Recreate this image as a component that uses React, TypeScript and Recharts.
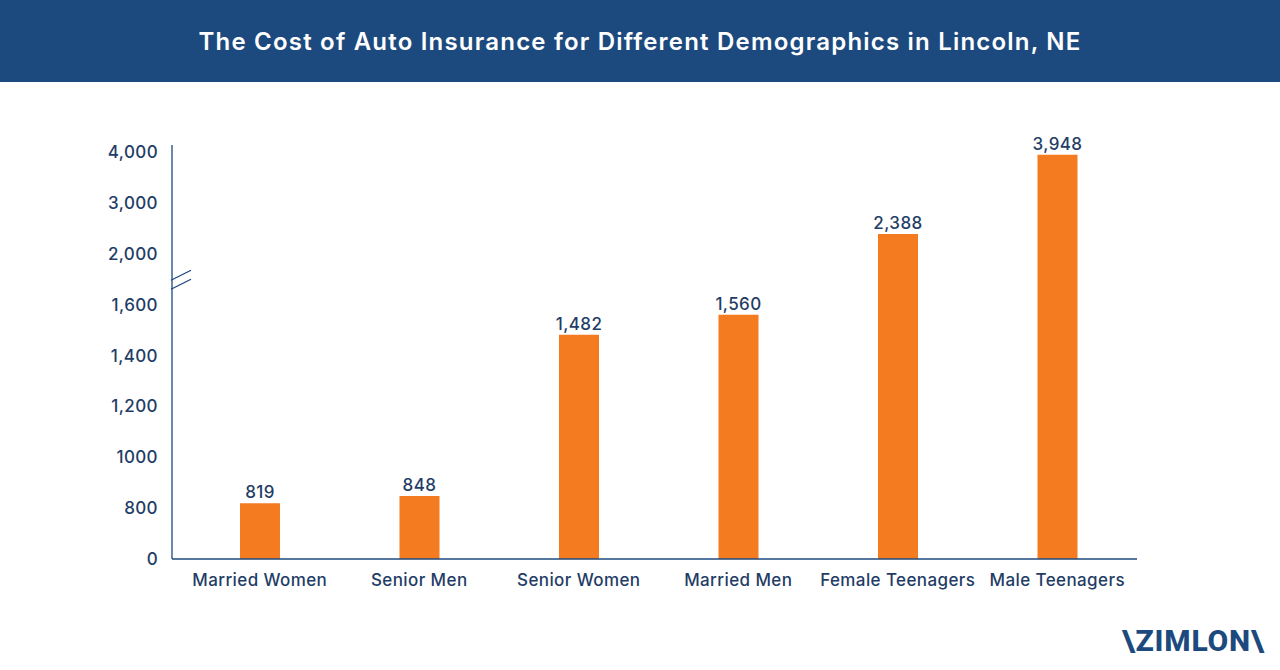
import React from 'react';
import { BarChart, Bar, XAxis, YAxis, LabelList, ReferenceArea } from 'recharts';

const categories = ['Married Women', 'Senior Men', 'Senior Women', 'Married Men', 'Female Teenagers', 'Male Teenagers'];
const annualCost = [819, 848, 1482, 1560, 2388, 3948];

// broken axis: each tick gets the same spacing
const tickValues = [0, 800, 1000, 1200, 1400, 1600, 2000, 3000, 4000];
const tickLabels = ['0', '800', '1000', '1,200', '1,400', '1,600', '2,000', '3,000', '4,000'];

const NAVY = '#1d4a7e';
const TEXT = '#1f3d66';
const ORANGE = '#f47b20';
const FONT = 'Inter, "Open Sans", sans-serif';

// value -> tick-index space (piecewise linear)
const toAxis = (v: number) => {
  for (let i = 0; i < tickValues.length - 1; i++) {
    if (v <= tickValues[i + 1]) {
      return i + (v - tickValues[i]) / (tickValues[i + 1] - tickValues[i]);
    }
  }
  return tickValues.length - 1;
};

const data = categories.map((name, i) => ({ name, cost: annualCost[i], pos: toAxis(annualCost[i]) }));

const BreakMark = (props: any) => {
  const { x, y, height } = props;
  const cy = y + height / 2;
  return (
    <g>
      <rect x={x - 3} y={cy - 12} width={6} height={24} fill="#fff" />
      <line x1={x - 9} y1={cy + 1} x2={x + 11} y2={cy - 9} stroke={NAVY} strokeWidth={1.3} />
      <line x1={x - 9} y1={cy + 10} x2={x + 11} y2={cy} stroke={NAVY} strokeWidth={1.3} />
    </g>
  );
};

const fmt = (v: number) => v.toLocaleString('en-US');

const tickStyle = { fill: TEXT, fontSize: 17, fontFamily: FONT, fontWeight: 500, letterSpacing: 0.4 };

export default function App() {
  return (
    <div style={{ position: 'absolute', left: 0, top: 0, width: 1280, height: 670, background: '#fff', fontFamily: FONT, overflow: 'hidden' }}>
      <div style={{ height: 82, background: NAVY, color: '#fff', display: 'flex', alignItems: 'center', justifyContent: 'center', fontSize: 24, fontWeight: 600, letterSpacing: 1.2 }}>
        The Cost of Auto Insurance for Different Demographics in Lincoln, NE
      </div>
      <BarChart width={1280} height={588} data={data} margin={{ top: 63, right: 143, bottom: 81, left: 0 }}>
        <XAxis
          dataKey="name"
          height={30}
          padding={{ left: 8, right: 0 }}
          axisLine={{ stroke: NAVY, strokeWidth: 1.3 }}
          tickLine={false}
          tickMargin={9}
          tick={tickStyle}
          interval={0}
        />
        <YAxis
          type="number"
          width={172}
          domain={[0, 8.14]}
          ticks={tickValues.map((_, i) => i)}
          tickFormatter={(i: number) => tickLabels[i]}
          axisLine={{ stroke: NAVY, strokeWidth: 1.3 }}
          tickLine={false}
          tickMargin={8}
          tick={tickStyle}
          allowDataOverflow
        />
        <ReferenceArea y1={5.35} y2={5.65} ifOverflow="visible" shape={<BreakMark />} />
        <Bar dataKey="pos" fill={ORANGE} barSize={40} isAnimationActive={false}>
          <LabelList
            dataKey="cost"
            position="top"
            offset={5}
            formatter={(v: any) => fmt(Number(v))}
            style={{ fill: TEXT, fontSize: 17, fontFamily: FONT, fontWeight: 500, letterSpacing: 0.4 }}
          />
        </Bar>
      </BarChart>
      <div style={{ position: 'absolute', left: 1122, top: 623, color: NAVY, fontSize: 30, fontWeight: 800, letterSpacing: 0.8, fontFamily: 'Roboto, Inter, sans-serif' }}>
        \ZIMLON\
      </div>
    </div>
  );
}
